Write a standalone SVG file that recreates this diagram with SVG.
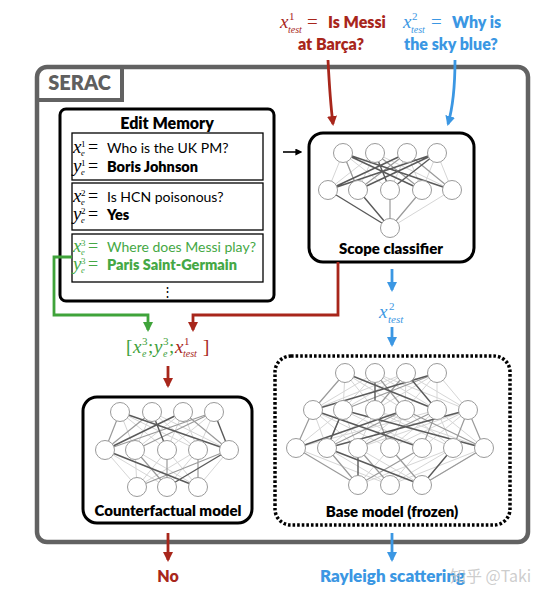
<svg xmlns="http://www.w3.org/2000/svg" width="547" height="599" viewBox="0 0 547 599">
<style>
.b{font-family:Lato,"Open Sans","Liberation Sans",sans-serif;font-weight:800}
.r{font-family:Lato,"Open Sans","Liberation Sans",sans-serif;font-weight:400}
.m{font-family:"Liberation Serif","DejaVu Serif",serif}
.i{font-style:italic}
.box{fill:#fff;stroke:#000;stroke-width:3}
.entry{fill:#fff;stroke:#000;stroke-width:1.3}
.n{fill:#fff;stroke:#9a9a9a;stroke-width:1}
.el{fill:none;stroke:#d6d6d6;stroke-width:1}
.em{fill:none;stroke:#9a9a9a;stroke-width:1.2}
.ed{fill:none;stroke:#5a5a5a;stroke-width:1.4}
.red{fill:#a8261b}.grn{fill:#3f9f3c}.blu{fill:#3b97e3}
</style>
<defs>
<marker id="ar" viewBox="0 0 10 10" refX="8" refY="5" markerWidth="10" markerHeight="10" markerUnits="userSpaceOnUse" orient="auto"><path d="M0 0L10 5L0 10z" fill="#a8261b"/></marker>
<marker id="ag" viewBox="0 0 10 10" refX="8" refY="5" markerWidth="10" markerHeight="10" markerUnits="userSpaceOnUse" orient="auto"><path d="M0 0L10 5L0 10z" fill="#3fa33a"/></marker>
<marker id="ab" viewBox="0 0 10 10" refX="8" refY="5" markerWidth="10" markerHeight="10" markerUnits="userSpaceOnUse" orient="auto"><path d="M0 0L10 5L0 10z" fill="#3b97e3"/></marker>
<marker id="ak" viewBox="0 0 10 10" refX="8" refY="5" markerWidth="7" markerHeight="7" markerUnits="userSpaceOnUse" orient="auto"><path d="M0 0L10 5L0 10z" fill="#000"/></marker>
</defs>
<rect width="547" height="599" fill="#fff"/>

<g id="serac">
<rect x="37" y="67" width="491" height="475" rx="10" fill="#fff" stroke="#626262" stroke-width="4.5"/>
<path d="M37 100H122V67" fill="none" stroke="#626262" stroke-width="4"/>
<text x="79.5" y="90" text-anchor="middle" class="b" font-size="20" fill="#5f5f5f">SERAC</text>
</g>

<g id="edit-memory">
<rect x="60" y="109" width="214" height="192" rx="6" class="box"/>
<text x="167" y="129" text-anchor="middle" class="b" font-size="16">Edit Memory</text>
<rect x="72" y="133" width="191" height="47" class="entry"/>
<text x="73" y="153" class="m i" font-size="19">x</text><text x="81" y="147" class="m" font-size="9">1</text><text x="81" y="156" class="m i" font-size="8.5">e</text><text x="88" y="153" class="m" font-size="18">=</text>
<text x="107" y="153" class="r" font-size="14">Who is the UK PM?</text>
<text x="73" y="172" class="m i" font-size="19">y</text><text x="81" y="166" class="m" font-size="9">1</text><text x="81" y="175" class="m i" font-size="8.5">e</text><text x="88" y="172" class="m" font-size="18">=</text>
<text x="107" y="172" class="b" font-size="14.5">Boris Johnson</text>
<rect x="72" y="183" width="191" height="47" class="entry"/>
<text x="73" y="202" class="m i" font-size="19">x</text><text x="81" y="196" class="m" font-size="9">2</text><text x="81" y="205" class="m i" font-size="8.5">e</text><text x="88" y="202" class="m" font-size="18">=</text>
<text x="107" y="202" class="r" font-size="14">Is HCN poisonous?</text>
<text x="73" y="220" class="m i" font-size="19">y</text><text x="81" y="214" class="m" font-size="9">2</text><text x="81" y="223" class="m i" font-size="8.5">e</text><text x="88" y="220" class="m" font-size="18">=</text>
<text x="107" y="220" class="b" font-size="14.5">Yes</text>
<rect x="72" y="234" width="191" height="48" class="entry"/>
<g fill="#45a845">
<text x="73" y="252" class="m i" font-size="19">x</text><text x="81" y="246" class="m" font-size="9">3</text><text x="81" y="255" class="m i" font-size="8.5">e</text><text x="88" y="252" class="m" font-size="18">=</text>
<text x="107" y="252" class="r" font-size="14">Where does Messi play?</text>
<text x="73" y="270" class="m i" font-size="19">y</text><text x="81" y="264" class="m" font-size="9">3</text><text x="81" y="273" class="m i" font-size="8.5">e</text><text x="88" y="270" class="m" font-size="18">=</text>
<text x="107" y="270" class="b" font-size="14.5">Paris Saint-Germain</text>
</g>
<text x="167" y="296" text-anchor="middle" class="r" font-size="13">&#8942;</text>
</g>

<g id="scope-classifier">
<rect x="309" y="133" width="165" height="129" rx="14" class="box"/>
<path class="el" d="M343 153L328 190M343 153L358 190M343 153L390 190M375 153L328 190M375 153L358 190M375 153L452 190M407 153L390 190M407 153L422 190M437 153L422 190M437 153L452 190M452 190L390 228"/>
<path class="em" d="M343 153L358 190M375 153L422 190M407 153L358 190M407 153L452 190M390 190L390 228M422 190L390 228"/>
<path class="ed" d="M343 153L422 190M343 153L452 190M375 153L390 190M407 153L328 190M437 153L328 190M437 153L358 190M437 153L390 190M328 190L390 228M358 190L390 228"/>
<circle cx="343" cy="153" r="9.5" class="n"/><circle cx="375" cy="153" r="9.5" class="n"/><circle cx="407" cy="153" r="9.5" class="n"/><circle cx="437" cy="153" r="9.5" class="n"/>
<circle cx="328" cy="190" r="9.5" class="n"/><circle cx="358" cy="190" r="9.5" class="n"/><circle cx="390" cy="190" r="9.5" class="n"/><circle cx="422" cy="190" r="9.5" class="n"/><circle cx="452" cy="190" r="9.5" class="n"/>
<circle cx="390" cy="228" r="9.5" class="n"/>
<text x="391" y="254" text-anchor="middle" class="b" font-size="15">Scope classifier</text>
</g>

<g id="counterfactual-model">
<rect x="83" y="397" width="169" height="126" rx="14" class="box"/>
<path class="el" d="M120 412L135 450M120 412L167 450M120 412L198 450M152 412L135 450M152 412L198 450M152 412L229 450M183 412L135 450M183 412L167 450M183 412L198 450M214 412L167 450M214 412L198 450M105 450L137 487M105 450L167 487M135 450L137 487M135 450L198 487M167 450L137 487M167 450L198 487M198 450L137 487M198 450L167 487M229 450L198 487"/>
<path class="em" d="M120 412L105 450M152 412L105 450M183 412L229 450M214 412L135 450M214 412L105 450M135 450L167 487M167 450L167 487M229 450L137 487M198 450L198 487"/>
<path class="ed" d="M120 412L229 450M152 412L167 450M183 412L105 450M214 412L229 450M105 450L198 487M229 450L167 487"/>
<circle cx="120" cy="412" r="9.5" class="n"/><circle cx="152" cy="412" r="9.5" class="n"/><circle cx="183" cy="412" r="9.5" class="n"/><circle cx="214" cy="412" r="9.5" class="n"/>
<circle cx="105" cy="450" r="9.5" class="n"/><circle cx="135" cy="450" r="9.5" class="n"/><circle cx="167" cy="450" r="9.5" class="n"/><circle cx="198" cy="450" r="9.5" class="n"/><circle cx="229" cy="450" r="9.5" class="n"/>
<circle cx="137" cy="487" r="9.5" class="n"/><circle cx="167" cy="487" r="9.5" class="n"/><circle cx="198" cy="487" r="9.5" class="n"/>
<text x="168" y="516" text-anchor="middle" class="b" font-size="15">Counterfactual model</text>
</g>

<g id="base-model">
<rect x="275" y="356" width="235" height="169" rx="16" fill="#fff" stroke="#000" stroke-width="3.5" stroke-dasharray="2.6 2"/>
<path class="el" d="M345 373L343 410M345 373L375 410M345 373L405 410M375 373L313 410M375 373L343 410M375 373L437 410M375 373L468 410M406 373L313 410M406 373L343 410M406 373L405 410M406 373L468 410M437 373L375 410M437 373L405 410M437 373L437 410M437 373L468 410M313 410L327 448M313 410L358 448M313 410L390 448M343 410L296 448M343 410L358 448M343 410L422 448M375 410L327 448M375 410L358 448M375 410L453 448M375 410L484 448M405 410L358 448M405 410L390 448M405 410L453 448M437 410L296 448M437 410L390 448M437 410L453 448M437 410L484 448M468 410L358 448M468 410L390 448M468 410L422 448M296 448L390 485M327 448L390 485M358 448L422 485M390 448L358 485M422 448L390 485M453 448L358 485M453 448L390 485M484 448L390 485M484 448L422 485"/>
<path class="em" d="M345 373L313 410M375 373L405 410M406 373L375 410M437 373L343 410M313 410L296 448M343 410L327 448M375 410L390 448M405 410L327 448M405 410L484 448M437 410L358 448M437 410L422 448M468 410L484 448M468 410L453 448M296 448L358 485M358 448L390 485M390 448L422 485M422 448L358 485M484 448L422 485M327 448L358 485"/>
<path class="ed" d="M345 373L437 410M375 373L375 410M437 373L313 410M406 373L437 410M343 410L327 448M343 410L484 448M468 410L327 448M313 410L422 448M405 410L296 448M327 448L422 485M358 448L358 485M453 448L422 485"/>
<circle cx="345" cy="373" r="9.5" class="n"/><circle cx="375" cy="373" r="9.5" class="n"/><circle cx="406" cy="373" r="9.5" class="n"/><circle cx="437" cy="373" r="9.5" class="n"/>
<circle cx="313" cy="410" r="9.5" class="n"/><circle cx="343" cy="410" r="9.5" class="n"/><circle cx="375" cy="410" r="9.5" class="n"/><circle cx="405" cy="410" r="9.5" class="n"/><circle cx="437" cy="410" r="9.5" class="n"/><circle cx="468" cy="410" r="9.5" class="n"/>
<circle cx="296" cy="448" r="9.5" class="n"/><circle cx="327" cy="448" r="9.5" class="n"/><circle cx="358" cy="448" r="9.5" class="n"/><circle cx="390" cy="448" r="9.5" class="n"/><circle cx="422" cy="448" r="9.5" class="n"/><circle cx="453" cy="448" r="9.5" class="n"/><circle cx="484" cy="448" r="9.5" class="n"/>
<circle cx="358" cy="485" r="9.5" class="n"/><circle cx="390" cy="485" r="9.5" class="n"/><circle cx="422" cy="485" r="9.5" class="n"/>
<text x="392" y="517" text-anchor="middle" class="b" font-size="15">Base model (frozen)</text>
</g>

<g id="query1" class="red">
<text x="280" y="28" class="m i" font-size="19">x</text><text x="289" y="20" class="m" font-size="11">1</text><text x="288" y="33" class="m i" font-size="10">test</text><text x="307" y="28" class="m" font-size="19">=</text>
<text x="328" y="28" class="b" font-size="16">Is Messi</text>
<text x="331" y="50" text-anchor="middle" class="b" font-size="16">at Barça?</text>
</g>
<g id="query2" class="blu">
<text x="403" y="28" class="m i" font-size="19">x</text><text x="412" y="20" class="m" font-size="11">2</text><text x="411" y="33" class="m i" font-size="10">test</text><text x="431" y="28" class="m" font-size="19">=</text>
<text x="452" y="28" class="b" font-size="16">Why is</text>
<text x="451" y="50" text-anchor="middle" class="b" font-size="16">the sky blue?</text>
</g>

<g id="concat">
<text x="126" y="353" class="m grn" font-size="19">[</text>
<text x="133" y="353" class="m i grn" font-size="19">x</text><text x="142" y="345" class="m grn" font-size="11">3</text><text x="142" y="357" class="m i grn" font-size="10">e</text><text x="148" y="353" class="m grn" font-size="19">;</text>
<text x="154" y="353" class="m i grn" font-size="19">y</text><text x="163" y="345" class="m grn" font-size="11">3</text><text x="163" y="357" class="m i grn" font-size="10">e</text><text x="169" y="353" class="m grn" font-size="19">;</text>
<text x="175" y="353" class="m i red" font-size="19">x</text><text x="184" y="345" class="m red" font-size="11">1</text><text x="183" y="357" class="m i red" font-size="10">test</text><text x="203" y="353" class="m red" font-size="19">]</text>
</g>

<g id="xtest2" class="blu">
<text x="379" y="318" class="m i" font-size="19">x</text><text x="389" y="310" class="m" font-size="11">2</text><text x="388" y="323" class="m i" font-size="11">test</text>
</g>

<g id="outputs">
<text x="168" y="582" text-anchor="middle" class="b red" font-size="16">No</text>
<text x="320" y="582" class="b blu" font-size="17">Rayleigh scattering</text>
<text x="450" y="582" font-family="'Noto Sans CJK SC','Noto Sans',sans-serif" font-size="16" fill="#c4c4c4" fill-opacity="0.85">知乎 @Taki</text>
</g>

<g id="connectors" fill="none">
<path d="M328 60Q330 100 333 124" stroke="#a8261b" stroke-width="2.8" marker-end="url(#ar)"/>
<path d="M455 60Q455 100 448 124" stroke="#3b97e3" stroke-width="2.8" marker-end="url(#ab)"/>
<path d="M283 152H301" stroke="#000" stroke-width="1.6" marker-end="url(#ak)"/>
<path d="M72 257H54V315H148V330" stroke="#3fa33a" stroke-width="2.8" marker-end="url(#ag)"/>
<path d="M338 262V315H193V330" stroke="#a8261b" stroke-width="2.8" marker-end="url(#ar)"/>
<path d="M392 269V290" stroke="#3b97e3" stroke-width="2.8" marker-end="url(#ab)"/>
<path d="M392 327V345" stroke="#3b97e3" stroke-width="2.8" marker-end="url(#ab)"/>
<path d="M168 366V386" stroke="#a8261b" stroke-width="2.8" marker-end="url(#ar)"/>
<path d="M168 533V560" stroke="#a8261b" stroke-width="2.8" marker-end="url(#ar)"/>
<path d="M392 533V560" stroke="#3b97e3" stroke-width="2.8" marker-end="url(#ab)"/>
</g>
</svg>
